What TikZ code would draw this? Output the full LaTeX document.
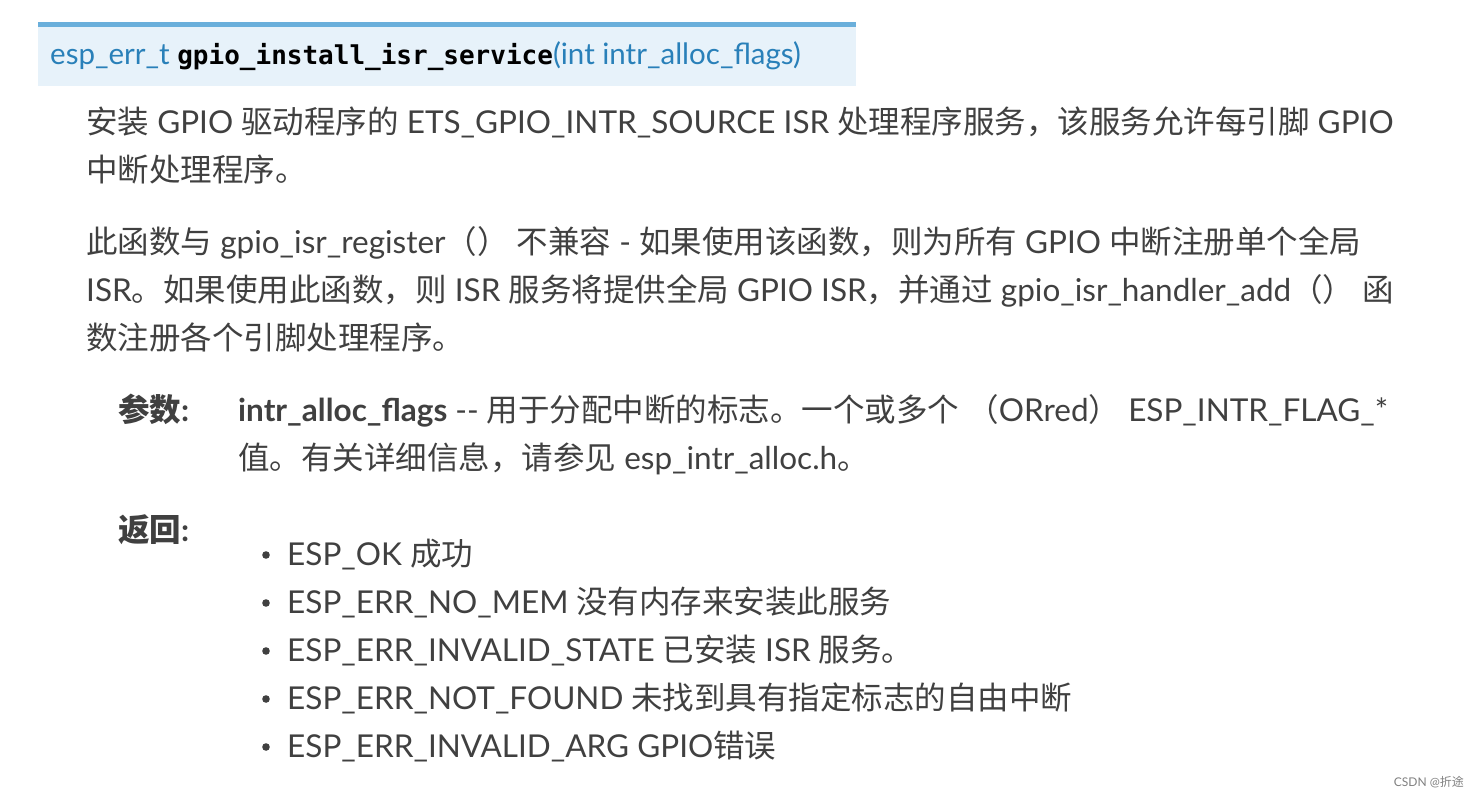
\documentclass[tikz,border=0pt]{standalone}
\usepackage{fontspec}
\setmainfont{Lato}
\setmonofont{DejaVu Sans Mono}
\newfontfamily\cjk{Noto Sans CJK SC}
\newcommand{\zh}[1]{{\cjk #1}}
\definecolor{txt}{HTML}{404040}
\definecolor{hblue}{HTML}{2980B9}
\definecolor{hbar}{HTML}{6AAFDB}
\definecolor{hfill}{HTML}{E7F2FA}
\begin{document}
\begin{tikzpicture}[x=1pt,y=-1pt,
  line/.style={anchor=base west,inner sep=0,text=txt,font=\fontsize{31.5}{31.5}\selectfont}]
\useasboundingbox[fill=white] (0,0) rectangle (1479,797);
\fill[hfill] (38,22) rectangle (856,86);
\fill[hbar] (38,22) rectangle (856,27);
\node[anchor=base west,inner sep=0,font=\fontsize{29.5}{29.5}\selectfont,text=hblue] (hd) at (50,65)
  {esp\_err\_t {\color{black}\ttfamily\bfseries\fontsize{26}{26}\selectfont gpio\_install\_isr\_service}(int intr\_alloc\_flags)};
\node[line] (l1) at (86,133) {\zh{安装} GPIO \zh{驱动程序的} ETS\_GPIO\_INTR\_SOURCE ISR \zh{处理程序服务，该服务允许每引脚} GPIO};
\node[line] (l2) at (86,181) {\zh{中断处理程序。}};
\node[line] (l3) at (86,253) {\zh{此函数与} gpio\_isr\_register\zh{（）} \zh{不兼容} - \zh{如果使用该函数，则为所有} GPIO \zh{中断注册单个全局}};
\node[line] (l4) at (86,301) {ISR\zh{。如果使用此函数，则} ISR \zh{服务将提供全局} GPIO ISR\zh{，并通过} gpio\_isr\_handler\_add\zh{（）} \zh{函}};
\node[line] (l5) at (86,349) {\zh{数注册各个引脚处理程序。}};
\node[line,font=\fontsize{31.5}{31.5}\selectfont\bfseries] (p) at (118,421) {\zh{参数}:};
\node[line] (p1) at (238,421) {\textbf{intr\_alloc\_flags} -{}- \zh{用于分配中断的标志。一个或多个} \zh{（}ORred\zh{）} ESP\_INTR\_FLAG\_*};
\node[line] (p2) at (238,469) {\zh{值。有关详细信息，请参见} esp\_intr\_alloc.h\zh{。}};
\node[line,font=\fontsize{31.5}{31.5}\selectfont\bfseries] (r) at (118,541) {\zh{返回}:};
\foreach \y/\t [count=\i] in {565/{ESP\_OK \zh{成功}},613/{ESP\_ERR\_NO\_MEM \zh{没有内存来安装此服务}},661/{ESP\_ERR\_INVALID\_STATE \zh{已安装} ISR \zh{服务。}},709/{ESP\_ERR\_NOT\_FOUND \zh{未找到具有指定标志的自由中断}},757/{ESP\_ERR\_INVALID\_ARG GPIO\zh{错误}}}{
  \fill[txt] (266,\y-10) circle[radius=3.8pt];
  \node[line] (t\i) at (287,\y) {\t};
}
\node[anchor=base east,inner sep=0,text=gray,font=\fontsize{12}{12}\selectfont] (wm) at (1464,786) {CSDN @\zh{折途}};
\end{tikzpicture}
\end{document}
